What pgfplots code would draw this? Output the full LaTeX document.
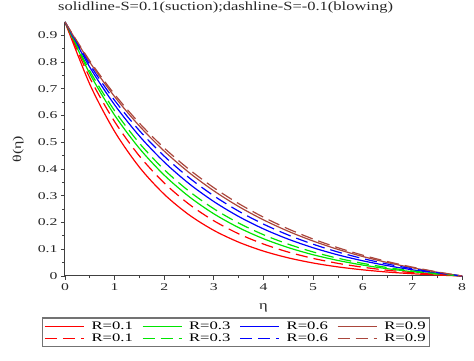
\documentclass[border=0pt]{standalone}
\usepackage{fontspec}
\setmainfont{Liberation Serif}
\usepackage{pgfplots}
\pgfplotsset{compat=1.18}
\definecolor{mred}{rgb}{1,0,0}
\definecolor{mgreen}{rgb}{0,0.9,0}
\definecolor{mblue}{rgb}{0,0,1}
\definecolor{mbrown}{RGB}{170,70,60}
\newcommand{\wideT}[1]{\scalebox{1.32}[1]{#1}}
\newcommand{\wideL}[1]{\scalebox{1.5}[1]{#1}}
\newcommand{\legT}[1]{\hspace{5pt}\scalebox{1.45}[1]{#1}}
\pgfplotstableread{
eta  rs     rd     gs     gd     bs     bd     ns     nd
0    0.95   0.95   0.95   0.95   0.95   0.95   0.95   0.95
0.5  0.717  0.7412 0.7567 0.7670 0.7808 0.7910 0.7994 0.8045
1    0.5405 0.5773 0.6015 0.6180 0.6401 0.6569 0.6708 0.6792
1.5  0.4068 0.4486 0.4771 0.4965 0.5233 0.5437 0.5609 0.5714
2    0.3055 0.3477 0.3771 0.3976 0.4261 0.4482 0.4671 0.4786
2.5  0.2287 0.2685 0.2969 0.3171 0.3454 0.3676 0.3869 0.3988
3    0.1705 0.2064 0.2325 0.2514 0.2783 0.2997 0.3184 0.3300
3.5  0.1265 0.1577 0.1809 0.1979 0.2225 0.2424 0.2598 0.2708
4    0.0931 0.1194 0.1394 0.1544 0.1761 0.1940 0.2099 0.2199
4.5  0.0678 0.0894 0.1062 0.1189 0.1377 0.1532 0.1672 0.1760
5    0.0486 0.0658 0.0795 0.0899 0.1056 0.1188 0.1307 0.1383
5.5  0.0340 0.0473 0.0581 0.0664 0.0790 0.0897 0.0995 0.1058
6    0.0231 0.0329 0.0409 0.0472 0.0569 0.0652 0.0729 0.0779
6.5  0.0147 0.0214 0.0271 0.0316 0.0386 0.0445 0.0502 0.0539
7    0.0085 0.0125 0.0161 0.0188 0.0232 0.0272 0.0308 0.0332
7.5  0.0036 0.0055 0.0071 0.0085 0.0105 0.0124 0.0142 0.0154
8    0      0      0      0      0      0      0      0
}\data
\begin{document}
\begin{tikzpicture}[x=1pt,y=1pt]
\path[use as bounding box] (0,0) rectangle (474,361);
\begin{axis}[
  at={(65pt,85pt)}, anchor=south west,
  scale only axis, width=397pt, height=254pt,
  xmin=0, xmax=8, ymin=0, ymax=0.95,
  clip=false,
  axis lines=left,
  axis line style={-, black!75, line width=1pt},
  tick style={black!75, line width=0.8pt},
  tick align=outside,
  major tick length=4pt, minor tick length=2.5pt,
  xtick={0,1,...,8}, ytick={0,0.1,...,0.9},
  minor x tick num=1, minor y tick num=1,
  /pgf/number format/assume math mode=true,
  xticklabel={\wideL{\pgfmathprintnumber[fixed,precision=1]{\tick}}},
  yticklabel={\wideL{\pgfmathprintnumber[fixed,precision=1]{\tick}}},
  ticklabel style={font=\fontsize{10.5}{12}\selectfont, black!85},
  title={\wideT{solidline-S=0.1(suction);dashline-S=-0.1(blowing)}},
  title style={at={(axis description cs:-0.0176,1.035)}, anchor=west, inner sep=0pt, font=\fontsize{12.5}{14}\selectfont, black!85},
  xlabel={\wideT{η}},
  xlabel style={at={(axis description cs:0.5,-0.126)}, anchor=center, font=\fontsize{12.5}{14}\selectfont, black!85},
  ylabel={\wideT{θ(η)}},
  ylabel style={at={(axis description cs:-0.118,0.5)}, anchor=center, font=\fontsize{12}{14}\selectfont, black!85},
  legend columns=4,
  legend style={at={(axis description cs:0.4307,-0.163)}, anchor=north,
    draw=black!55, line width=1.2pt, inner sep=2pt,
    font=\fontsize{11.5}{13}\selectfont,
    /tikz/every even column/.append style={column sep=7pt},
    row sep=-1.5pt},
  legend image code/.code={\draw[#1, line width=1.2pt] (0pt,0pt) -- (39pt,0pt);},
  every axis plot/.append style={line width=1.2pt},
]
\addplot[mred, smooth] table[x=eta,y=rs]{\data};
\addplot[mgreen, smooth] table[x=eta,y=gs]{\data};
\addplot[mblue, smooth] table[x=eta,y=bs]{\data};
\addplot[mbrown, smooth] table[x=eta,y=ns]{\data};
\addplot[mred, smooth, dash pattern=on 12pt off 6pt] table[x=eta,y=rd]{\data};
\addplot[mgreen, smooth, dash pattern=on 12pt off 6pt] table[x=eta,y=gd]{\data};
\addplot[mblue, smooth, dash pattern=on 12pt off 6pt] table[x=eta,y=bd]{\data};
\addplot[mbrown, smooth, dash pattern=on 12pt off 6pt] table[x=eta,y=nd]{\data};
\legend{\legT{R=0.1},\legT{R=0.3},\legT{R=0.6},\legT{R=0.9},\legT{R=0.1},\legT{R=0.3},\legT{R=0.6},\legT{R=0.9}}
\end{axis}
\end{tikzpicture}
\end{document}
